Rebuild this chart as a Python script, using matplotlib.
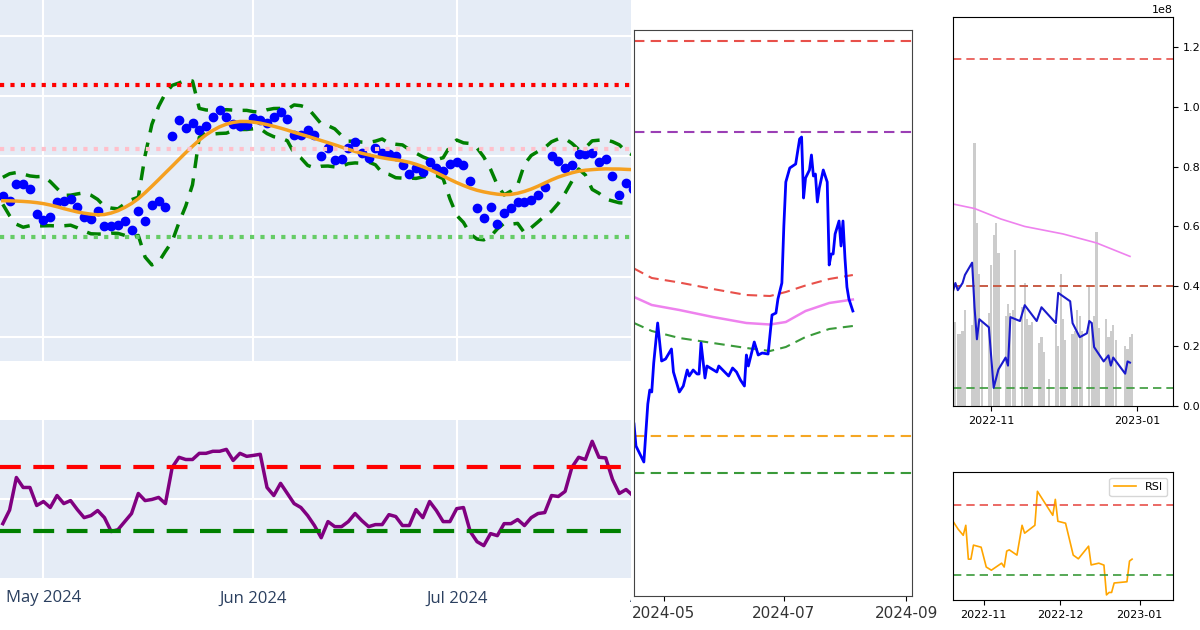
import numpy as np
import pandas as pd
import matplotlib
matplotlib.use("Agg")
import matplotlib.pyplot as plt
import matplotlib.dates as mdates

# ---- left panel (plotly style): price dots, smoothed line, bands, RSI ----
price = [106.7, 106.3, 107.7, 107.7, 107.3, 105.2, 104.7, 105.0, 106.2, 106.3, 106.5, 105.8,
         105.0, 104.8, 105.5, 104.2, 104.2, 104.3, 104.6, 103.9, 105.5, 104.6, 106.0, 106.3,
         105.8, 111.7, 113.0, 112.4, 112.8, 112.2, 112.5, 113.3, 113.9, 113.3, 112.7, 112.5,
         112.6, 113.2, 113.0, 112.8, 113.3, 113.7, 113.1, 111.8, 111.8, 112.2, 111.8, 110.0,
         110.7, 109.7, 109.8, 110.7, 111.2, 110.3, 109.9, 110.7, 110.3, 110.2, 110.0, 109.3,
         108.5, 109.0, 108.7, 109.5, 109.0, 108.8, 109.4, 109.5, 109.3, 108.0, 105.7, 104.9,
         105.8, 104.4, 105.3, 105.7, 106.2, 106.2, 106.4, 106.8, 107.5, 110.0, 109.6, 109.0,
         109.3, 110.2, 110.2, 110.3, 109.5, 109.8, 108.4, 106.8, 107.8, 107.3]
rsi_left = [34.4, 43.0, 63.6, 57.3, 57.3, 45.9, 48.4, 44.6, 52.2, 47.1, 49.0, 43.3, 38.2, 39.5,
            42.7, 38.2, 29.4, 30.6, 35.7, 40.8, 53.5, 49.0, 49.7, 51.0, 47.1, 70.0, 76.4, 75.0,
            75.0, 78.9, 78.9, 80.2, 80.2, 81.4, 74.4, 78.9, 77.0, 77.6, 78.3, 57.3, 52.2, 59.9,
            53.5, 47.1, 44.6, 39.5, 33.2, 25.5, 35.7, 32.5, 32.5, 35.7, 40.8, 36.3, 32.5, 33.8,
            33.8, 40.1, 38.9, 33.2, 33.2, 43.3, 38.2, 48.4, 42.7, 35.7, 35.7, 43.9, 44.6, 29.4,
            23.0, 20.5, 28.1, 26.8, 34.4, 34.4, 37.0, 33.2, 38.2, 40.8, 41.4, 52.2, 51.6, 54.8,
            70.0, 76.4, 75.0, 86.5, 76.4, 76.0, 62.4, 53.5, 56.0, 52.2]
left_start = "2024-04-25"
upper_lvl, mid_lvl, lower_lvl = 115.9, 110.6, 103.3

# ---- middle panel ----
mid_dates = ["2024-04-16", "2024-04-17", "2024-04-19", "2024-04-21", "2024-04-23", "2024-04-24",
             "2024-04-25", "2024-04-26", "2024-04-28", "2024-04-30", "2024-05-02", "2024-05-05",
             "2024-05-06", "2024-05-09", "2024-05-11", "2024-05-13", "2024-05-14", "2024-05-16",
             "2024-05-18", "2024-05-19", "2024-05-20", "2024-05-22", "2024-05-23", "2024-05-28",
             "2024-05-29", "2024-06-01", "2024-06-03", "2024-06-05", "2024-06-07", "2024-06-09",
             "2024-06-11", "2024-06-12", "2024-06-13", "2024-06-16", "2024-06-18", "2024-06-20",
             "2024-06-23", "2024-06-25", "2024-06-27", "2024-06-28", "2024-06-30", "2024-07-01",
             "2024-07-02", "2024-07-04", "2024-07-07", "2024-07-09", "2024-07-10", "2024-07-11",
             "2024-07-12", "2024-07-14", "2024-07-15", "2024-07-16", "2024-07-17", "2024-07-18",
             "2024-07-19", "2024-07-21", "2024-07-23", "2024-07-24", "2024-07-25", "2024-07-26",
             "2024-07-27", "2024-07-29", "2024-07-30", "2024-07-31", "2024-08-01", "2024-08-02",
             "2024-08-03", "2024-08-05"]
mid_price = [34.4, 30.0, 28.4, 26.8, 38.4, 41.2, 40.8, 46.6, 54.6, 47.0, 47.4, 49.4, 44.8, 40.8,
             42.0, 45.2, 44.0, 45.2, 44.4, 44.4, 50.6, 43.6, 46.0, 44.8, 46.0, 44.8, 44.0, 45.6,
             44.8, 43.2, 42.0, 48.2, 46.0, 50.8, 48.2, 48.6, 48.4, 56.2, 56.6, 59.4, 62.6, 74.0,
             82.8, 85.6, 86.4, 91.4, 91.8, 79.6, 83.6, 85.2, 88.2, 84.0, 84.4, 78.8, 81.6, 85.2,
             82.8, 66.2, 68.4, 68.4, 72.4, 75.0, 70.0, 75.0, 67.6, 61.8, 59.4, 57.0]
band_dates = ["2024-04-16", "2024-04-25", "2024-05-09", "2024-05-26", "2024-06-12", "2024-06-24",
              "2024-07-02", "2024-07-12", "2024-07-24", "2024-08-05"]
band_upper = [65.5, 63.6, 62.7, 61.4, 60.2, 60.0, 60.8, 62.1, 63.4, 64.2]
band_mid = [59.8, 58.2, 57.2, 55.8, 54.6, 54.3, 54.8, 57.0, 58.6, 59.3]
band_lower = [54.6, 53.0, 51.6, 50.6, 49.6, 49.0, 49.8, 51.8, 53.4, 54.0]
mid_levels = [(111.1, "#e8504a"), (92.8, "#9b3fb5"), (32.0, "#f5a623"), (24.7, "#3a9a3a")]

# ---- right panel: volume, price, RSI ----
vol_dates = pd.bdate_range("2022-10-17", "2022-12-30")
vol_dates = vol_dates[vol_dates != pd.Timestamp("2022-11-24")]
vol_dates = vol_dates[vol_dates != pd.Timestamp("2022-12-26")]
volume = [0.28, 0.24, 0.24, 0.25, 0.32, 0.27, 0.88, 0.61, 0.44, 0.28, 0.31, 0.47, 0.57, 0.61,
          0.51, 0.30, 0.34, 0.31, 0.32, 0.52, 0.33, 0.41, 0.29, 0.27, 0.28, 0.21, 0.23, 0.18,
          0.09, 0.27, 0.20, 0.44, 0.29, 0.22, 0.24, 0.25, 0.32, 0.30, 0.25, 0.40, 0.28, 0.30,
          0.58, 0.26, 0.29, 0.23, 0.25, 0.27, 0.22, 0.20, 0.19, 0.23, 0.24]
r_dates = ["2022-10-16", "2022-10-17", "2022-10-18", "2022-10-20", "2022-10-21", "2022-10-24",
           "2022-10-25", "2022-10-26", "2022-10-27", "2022-10-31", "2022-11-02", "2022-11-04",
           "2022-11-07", "2022-11-08", "2022-11-09", "2022-11-13", "2022-11-15", "2022-11-20",
           "2022-11-22", "2022-11-28", "2022-11-29", "2022-12-04", "2022-12-05", "2022-12-08",
           "2022-12-11", "2022-12-12", "2022-12-13", "2022-12-14", "2022-12-18", "2022-12-20",
           "2022-12-21", "2022-12-22", "2022-12-27", "2022-12-28", "2022-12-29"]
r_price = [0.384, 0.411, 0.387, 0.411, 0.438, 0.479, 0.330, 0.223, 0.290, 0.263, 0.061, 0.122,
           0.162, 0.135, 0.297, 0.284, 0.337, 0.284, 0.330, 0.277, 0.378, 0.350, 0.277, 0.230,
           0.243, 0.284, 0.277, 0.197, 0.149, 0.169, 0.135, 0.162, 0.108, 0.149, 0.145]
ma_dates = ["2022-10-16", "2022-10-25", "2022-11-05", "2022-11-15", "2022-12-01", "2022-12-15",
            "2022-12-29"]
ma_vals = [0.675, 0.66, 0.625, 0.60, 0.575, 0.545, 0.50]
r_levels = [(1.16, "#e8504a"), (0.40, "#f5a623"), (0.40, "#c0504d"), (0.06, "#3a9a3a")]
rsi_dates = ["2022-10-20", "2022-10-22", "2022-10-24", "2022-10-25", "2022-10-26", "2022-10-27",
             "2022-10-28", "2022-10-31", "2022-11-02", "2022-11-04", "2022-11-08", "2022-11-09",
             "2022-11-10", "2022-11-11", "2022-11-14", "2022-11-16", "2022-11-17", "2022-11-21",
             "2022-11-22", "2022-11-28", "2022-11-29", "2022-11-30", "2022-12-03", "2022-12-06",
             "2022-12-08", "2022-12-12", "2022-12-13", "2022-12-16", "2022-12-18", "2022-12-19",
             "2022-12-20", "2022-12-21", "2022-12-22", "2022-12-27", "2022-12-28", "2022-12-29"]
rsi_right = [60.9, 56.4, 52.9, 58.6, 39.3, 39.3, 47.3, 46.1, 34.8, 33.0, 37.0, 34.8, 43.9, 44.6,
             41.6, 58.6, 54.1, 58.6, 78.0, 64.3, 73.4, 60.9, 59.8, 41.6, 39.5, 46.7, 36.0, 37.0,
             35.9, 18.9, 20.3, 20.3, 25.7, 26.4, 38.2, 39.3]

W, H = 1200, 630
fig = plt.figure(figsize=(12, 6.3), dpi=100)


def box(x0, y0, x1, y1):
    return [x0 / W, 1 - y1 / H, (x1 - x0) / W, (y1 - y0) / H]


def d(s):
    return pd.Timestamp(s)


plotly_bg = "#E5ECF6"
left_dates = pd.date_range(left_start, periods=len(price), freq="D")
s = pd.Series(price, index=left_dates)
smooth = s.rolling(15, center=True, min_periods=1).mean().rolling(7, center=True, min_periods=1).mean()
roll_m = s.rolling(9, center=True, min_periods=1).mean()
roll_s = s.rolling(9, center=True, min_periods=2).std().bfill().ffill()
# the panel is cropped at x=630 px; axes run on to 700 px under the white cover
xl = (d("2024-04-24 14:00"), d("2024-08-05 22:00"))

ax1 = fig.add_axes(box(0, 0, 700, 361), zorder=0)
ax1.set_facecolor(plotly_bg)
ax1.plot(left_dates, roll_m + 1.8 * roll_s, color="green", lw=2.5, ls=(0, (4, 3)))
ax1.plot(left_dates, roll_m - 1.8 * roll_s, color="green", lw=2.5, ls=(0, (4, 3)))
ax1.plot(left_dates, price, "o", color="blue", ms=6)
ax1.plot(left_dates, smooth, color="#f5a020", lw=2.5)
ax1.axhline(upper_lvl, color="red", lw=3, ls=(0, (1, 1.5)))
ax1.axhline(mid_lvl, color="pink", lw=3, ls=(0, (1, 1.5)))
ax1.axhline(lower_lvl, color="#66cc66", lw=3, ls=(0, (1, 1.5)))
ax1.set_xlim(*xl)
ax1.set_ylim(93, 123)
ax1.set_yticks([95, 100, 105, 110, 115, 120])

ax2 = fig.add_axes(box(0, 420, 700, 578), zorder=0)
ax2.set_facecolor(plotly_bg)
ax2.plot(pd.date_range(left_start, periods=len(rsi_left), freq="D"), rsi_left, color="purple", lw=2.5)
ax2.axhline(70, color="red", lw=3, ls=(0, (5, 3)))
ax2.axhline(30, color="green", lw=3, ls=(0, (5, 3)))
ax2.set_xlim(*xl)
ax2.set_ylim(0, 100)
ax2.set_yticks([50])

for ax in (ax1, ax2):
    for sp in ax.spines.values():
        sp.set_visible(False)
    ax.xaxis.set_major_locator(mdates.MonthLocator())
    ax.xaxis.set_major_formatter(mdates.DateFormatter("%b %Y"))
    ax.grid(True, color="white", lw=1.5)
    ax.set_axisbelow(True)
    ax.tick_params(length=0, labelleft=False)
ax1.tick_params(labelbottom=False)
ax2.tick_params(axis="x", labelsize=12, labelcolor="#2a3f5f", pad=9)
for t in ax2.get_xticklabels():
    t.set_fontfamily("Open Sans")

# white cover so the left panel looks cropped
cover = fig.add_axes([631 / W, 0, 1 - 631 / W, 1], zorder=1)
cover.axis("off")
cover.add_patch(plt.Rectangle((0, 0), 1, 1, color="white", transform=cover.transAxes))

# middle panel
ax3 = fig.add_axes(box(634, 30, 912, 596), zorder=2)
for y, c in mid_levels:
    ax3.axhline(y, color=c, lw=1.5, ls=(0, (5, 3)))
ax3.plot([d(x) for x in band_dates], band_upper, color="#e8504a", lw=1.5, ls=(0, (5, 3)))
ax3.plot([d(x) for x in band_dates], band_mid, color="violet", lw=1.8)
ax3.plot([d(x) for x in band_dates], band_lower, color="#3a9a3a", lw=1.5, ls=(0, (5, 3)))
ax3.plot([d(x) for x in mid_dates], mid_price, color="blue", lw=2)
ax3.set_xlim(d("2024-04-16"), d("2024-09-04"))
ax3.set_ylim(0, 113.2)
ax3.xaxis.set_major_locator(mdates.MonthLocator(bymonth=[1, 3, 5, 7, 9, 11]))
ax3.xaxis.set_major_formatter(mdates.DateFormatter("%Y-%m"))
ax3.tick_params(axis="x", labelsize=11, labelcolor="#333333")
ax3.tick_params(axis="y", left=False, labelleft=False)
for sp in ax3.spines.values():
    sp.set_color("#444444")

# right top panel
ax4 = fig.add_axes(box(953, 17, 1173, 406), zorder=2)
ax4.bar(vol_dates, [v * 1e8 for v in volume], width=0.9, color="#cccccc")
ax4.plot([d(x) for x in ma_dates], [v * 1e8 for v in ma_vals], color="violet", lw=1.2)
for y, c in r_levels:
    ax4.axhline(y * 1e8, color=c, lw=1.2, ls=(0, (5, 3)))
ax4.plot([d(x) for x in r_dates], [v * 1e8 for v in r_price], color="#1a1acc", lw=1.5)
ax4.set_xlim(d("2022-10-16"), d("2023-01-16"))
ax4.set_ylim(0, 1.3e8)
ax4.yaxis.tick_right()
ax4.set_yticks(np.arange(0, 1.21e8, 0.2e8))
ax4.xaxis.set_major_locator(mdates.MonthLocator(bymonth=[1, 3, 5, 7, 9, 11]))
ax4.xaxis.set_major_formatter(mdates.DateFormatter("%Y-%m"))
ax4.tick_params(labelsize=8)
ax4.yaxis.get_offset_text().set_fontsize(8)

# right bottom panel
ax5 = fig.add_axes(box(953, 472, 1173, 600), zorder=2)
ax5.plot([d(x) for x in rsi_dates], rsi_right, color="orange", lw=1.2, label="RSI")
ax5.axhline(70, color="#e8504a", lw=1.2, ls=(0, (5, 3)))
ax5.axhline(30, color="#3a9a3a", lw=1.2, ls=(0, (5, 3)))
ax5.set_xlim(d("2022-10-20"), d("2023-01-14"))
ax5.set_ylim(16, 89)
ax5.xaxis.set_major_locator(mdates.MonthLocator())
ax5.xaxis.set_major_formatter(mdates.DateFormatter("%Y-%m"))
ax5.tick_params(labelsize=8)
ax5.tick_params(axis="y", left=False, labelleft=False)
ax5.legend(loc="upper right", fontsize=8)

fig.savefig("out.png", dpi=100)
